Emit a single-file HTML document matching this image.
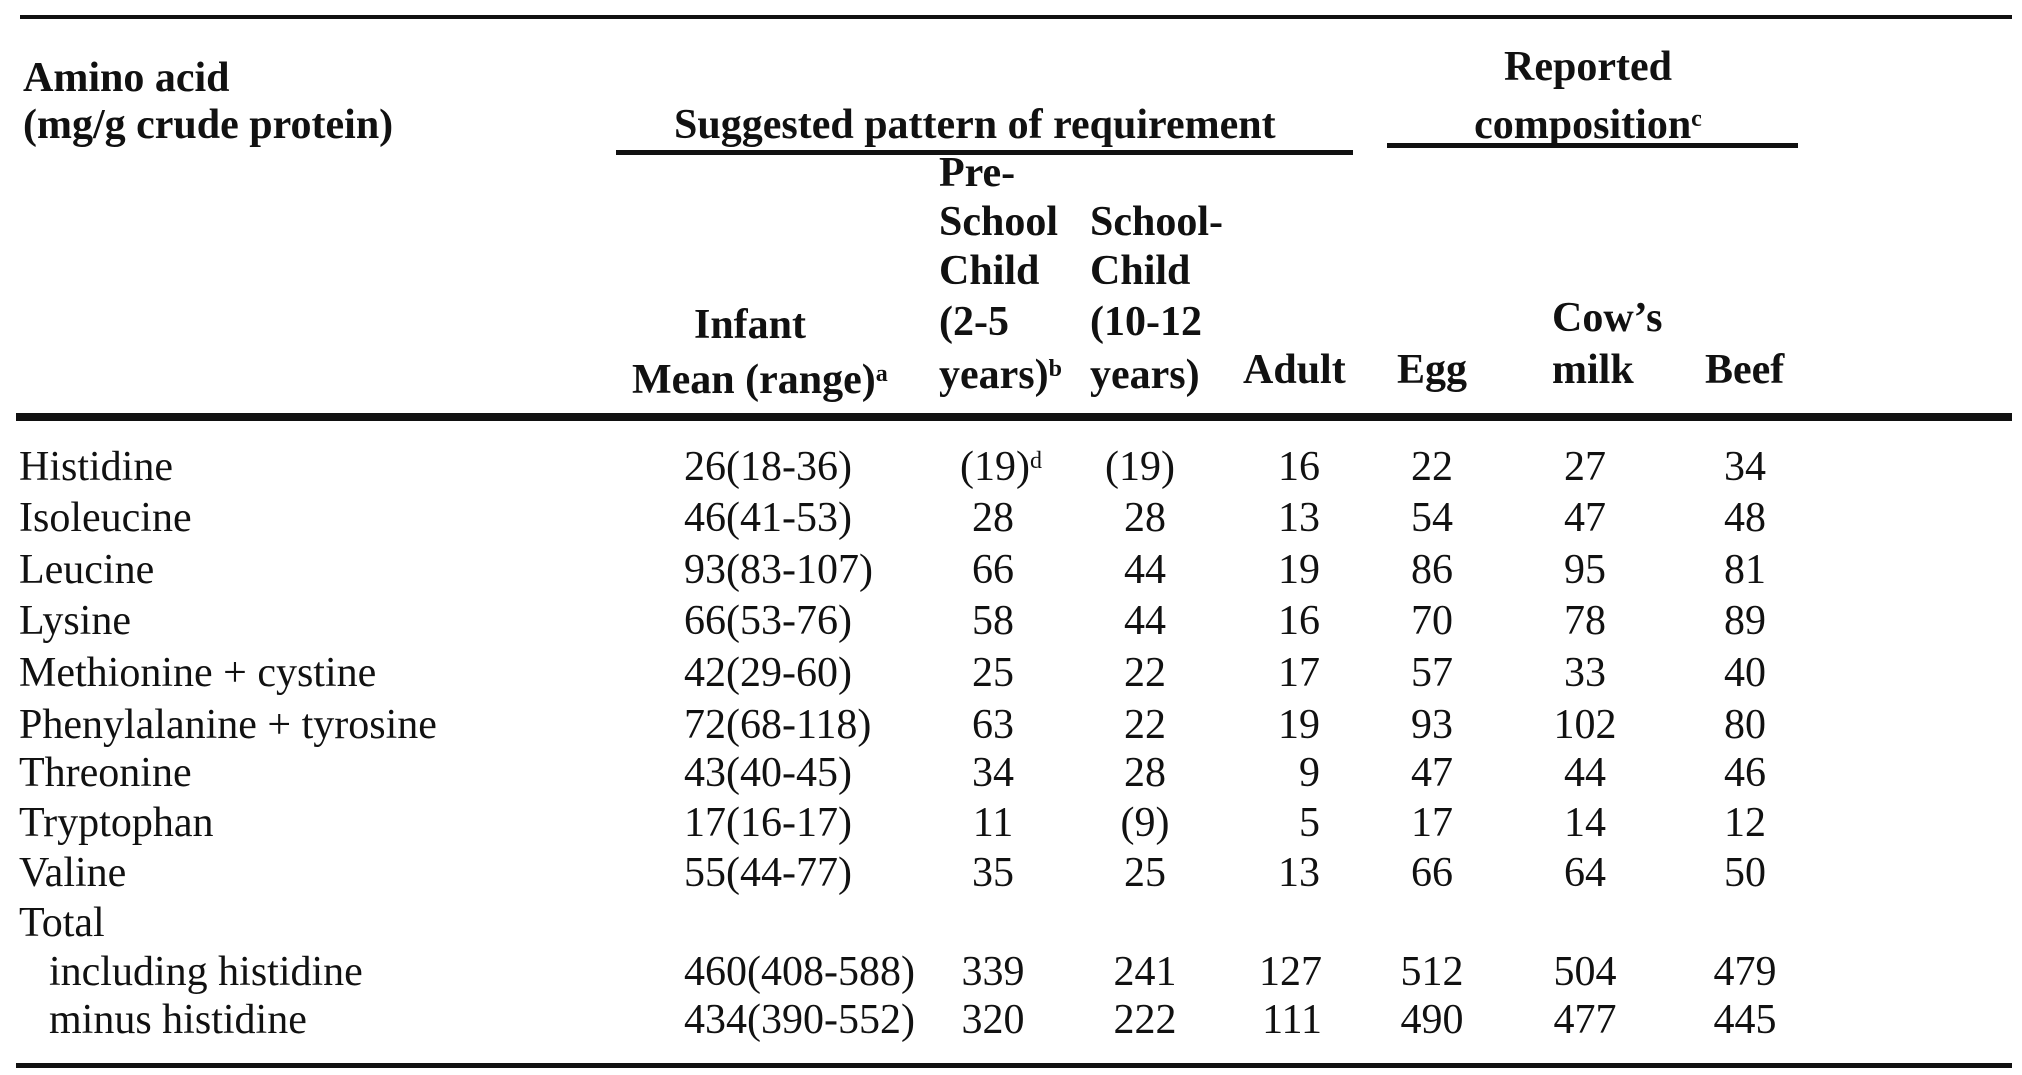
<!DOCTYPE html>
<html><head><meta charset="utf-8"><style>
html,body{margin:0;padding:0;background:#fff;}
#p{position:relative;width:2022px;height:1075px;overflow:hidden;background:#fff;font-family:"Liberation Serif","Times New Roman",serif;font-size:42px;color:#111;}
.t{position:absolute;white-space:nowrap;line-height:50px;height:50px;}
.b{font-weight:bold;}
.r{position:absolute;background:#111;}
.c{transform:translateX(-50%);}
.ra{transform:translateX(-100%);}
sup{font-size:24px;vertical-align:top;position:relative;top:-6px;}
</style></head><body><div id="p">
<div class="r" style="left:20px;top:15px;width:1992px;height:4px"></div>
<div class="r" style="left:616px;top:150px;width:737px;height:5px"></div>
<div class="r" style="left:1387px;top:143px;width:411px;height:5px"></div>
<div class="r" style="left:16px;top:413px;width:1996px;height:8px"></div>
<div class="r" style="left:16px;top:1063px;width:1996px;height:5px"></div>

<div class="t b" style="left:23px;top:53px">Amino acid</div>
<div class="t b" style="left:23px;top:100px">(mg/g crude protein)</div>
<div class="t b" style="left:674px;top:100px">Suggested pattern of requirement</div>
<div class="t b c" style="left:1588px;top:42px">Reported</div>
<div class="t b c" style="left:1588px;top:100px">composition<sup>c</sup></div>

<div class="t b c" style="left:750px;top:300px">Infant</div>
<div class="t b" style="left:632px;top:355px">Mean (range)<sup>a</sup></div>
<div class="t b" style="left:939px;top:148px">Pre-</div>
<div class="t b" style="left:939px;top:197px">School</div>
<div class="t b" style="left:939px;top:246px">Child</div>
<div class="t b" style="left:939px;top:297px">(2-5</div>
<div class="t b" style="left:939px;top:350px">years)<sup>b</sup></div>
<div class="t b" style="left:1090px;top:197px">School-</div>
<div class="t b" style="left:1090px;top:246px">Child</div>
<div class="t b" style="left:1090px;top:297px">(10-12</div>
<div class="t b" style="left:1090px;top:350px">years)</div>
<div class="t b" style="left:1243px;top:345px">Adult</div>
<div class="t b" style="left:1397px;top:345px">Egg</div>
<div class="t b" style="left:1552px;top:293px">Cow’s</div>
<div class="t b" style="left:1552px;top:345px">milk</div>
<div class="t b" style="left:1705px;top:345px">Beef</div>

<!-- rows -->
<div class="t" style="left:19px;top:442px">Histidine</div>
<div class="t" style="left:684px;top:442px">26(18-36)</div>
<div class="t" style="left:960px;top:442px">(19)<sup>d</sup></div>
<div class="t" style="left:1105px;top:442px">(19)</div>
<div class="t ra" style="left:1320px;top:442px">16</div>
<div class="t c" style="left:1432px;top:442px">22</div>
<div class="t c" style="left:1585px;top:442px">27</div>
<div class="t c" style="left:1745px;top:442px">34</div>

<div class="t" style="left:19px;top:493px">Isoleucine</div>
<div class="t" style="left:684px;top:493px">46(41-53)</div>
<div class="t c" style="left:993px;top:493px">28</div>
<div class="t c" style="left:1145px;top:493px">28</div>
<div class="t ra" style="left:1320px;top:493px">13</div>
<div class="t c" style="left:1432px;top:493px">54</div>
<div class="t c" style="left:1585px;top:493px">47</div>
<div class="t c" style="left:1745px;top:493px">48</div>

<div class="t" style="left:19px;top:545px">Leucine</div>
<div class="t" style="left:684px;top:545px">93(83-107)</div>
<div class="t c" style="left:993px;top:545px">66</div>
<div class="t c" style="left:1145px;top:545px">44</div>
<div class="t ra" style="left:1320px;top:545px">19</div>
<div class="t c" style="left:1432px;top:545px">86</div>
<div class="t c" style="left:1585px;top:545px">95</div>
<div class="t c" style="left:1745px;top:545px">81</div>

<div class="t" style="left:19px;top:596px">Lysine</div>
<div class="t" style="left:684px;top:596px">66(53-76)</div>
<div class="t c" style="left:993px;top:596px">58</div>
<div class="t c" style="left:1145px;top:596px">44</div>
<div class="t ra" style="left:1320px;top:596px">16</div>
<div class="t c" style="left:1432px;top:596px">70</div>
<div class="t c" style="left:1585px;top:596px">78</div>
<div class="t c" style="left:1745px;top:596px">89</div>

<div class="t" style="left:19px;top:648px">Methionine + cystine</div>
<div class="t" style="left:684px;top:648px">42(29-60)</div>
<div class="t c" style="left:993px;top:648px">25</div>
<div class="t c" style="left:1145px;top:648px">22</div>
<div class="t ra" style="left:1320px;top:648px">17</div>
<div class="t c" style="left:1432px;top:648px">57</div>
<div class="t c" style="left:1585px;top:648px">33</div>
<div class="t c" style="left:1745px;top:648px">40</div>

<div class="t" style="left:19px;top:700px">Phenylalanine + tyrosine</div>
<div class="t" style="left:684px;top:700px">72(68-118)</div>
<div class="t c" style="left:993px;top:700px">63</div>
<div class="t c" style="left:1145px;top:700px">22</div>
<div class="t ra" style="left:1320px;top:700px">19</div>
<div class="t c" style="left:1432px;top:700px">93</div>
<div class="t c" style="left:1585px;top:700px">102</div>
<div class="t c" style="left:1745px;top:700px">80</div>

<div class="t" style="left:19px;top:748px">Threonine</div>
<div class="t" style="left:684px;top:748px">43(40-45)</div>
<div class="t c" style="left:993px;top:748px">34</div>
<div class="t c" style="left:1145px;top:748px">28</div>
<div class="t ra" style="left:1320px;top:748px">9</div>
<div class="t c" style="left:1432px;top:748px">47</div>
<div class="t c" style="left:1585px;top:748px">44</div>
<div class="t c" style="left:1745px;top:748px">46</div>

<div class="t" style="left:19px;top:798px">Tryptophan</div>
<div class="t" style="left:684px;top:798px">17(16-17)</div>
<div class="t c" style="left:993px;top:798px">11</div>
<div class="t c" style="left:1145px;top:798px">(9)</div>
<div class="t ra" style="left:1320px;top:798px">5</div>
<div class="t c" style="left:1432px;top:798px">17</div>
<div class="t c" style="left:1585px;top:798px">14</div>
<div class="t c" style="left:1745px;top:798px">12</div>

<div class="t" style="left:19px;top:848px">Valine</div>
<div class="t" style="left:684px;top:848px">55(44-77)</div>
<div class="t c" style="left:993px;top:848px">35</div>
<div class="t c" style="left:1145px;top:848px">25</div>
<div class="t ra" style="left:1320px;top:848px">13</div>
<div class="t c" style="left:1432px;top:848px">66</div>
<div class="t c" style="left:1585px;top:848px">64</div>
<div class="t c" style="left:1745px;top:848px">50</div>

<div class="t" style="left:19px;top:898px">Total</div>

<div class="t" style="left:49px;top:947px">including histidine</div>
<div class="t" style="left:684px;top:947px">460(408-588)</div>
<div class="t c" style="left:993px;top:947px">339</div>
<div class="t c" style="left:1145px;top:947px">241</div>
<div class="t ra" style="left:1322px;top:947px">127</div>
<div class="t c" style="left:1432px;top:947px">512</div>
<div class="t c" style="left:1585px;top:947px">504</div>
<div class="t c" style="left:1745px;top:947px">479</div>

<div class="t" style="left:49px;top:995px">minus histidine</div>
<div class="t" style="left:684px;top:995px">434(390-552)</div>
<div class="t c" style="left:993px;top:995px">320</div>
<div class="t c" style="left:1145px;top:995px">222</div>
<div class="t ra" style="left:1322px;top:995px">111</div>
<div class="t c" style="left:1432px;top:995px">490</div>
<div class="t c" style="left:1585px;top:995px">477</div>
<div class="t c" style="left:1745px;top:995px">445</div>
</div></body></html>
